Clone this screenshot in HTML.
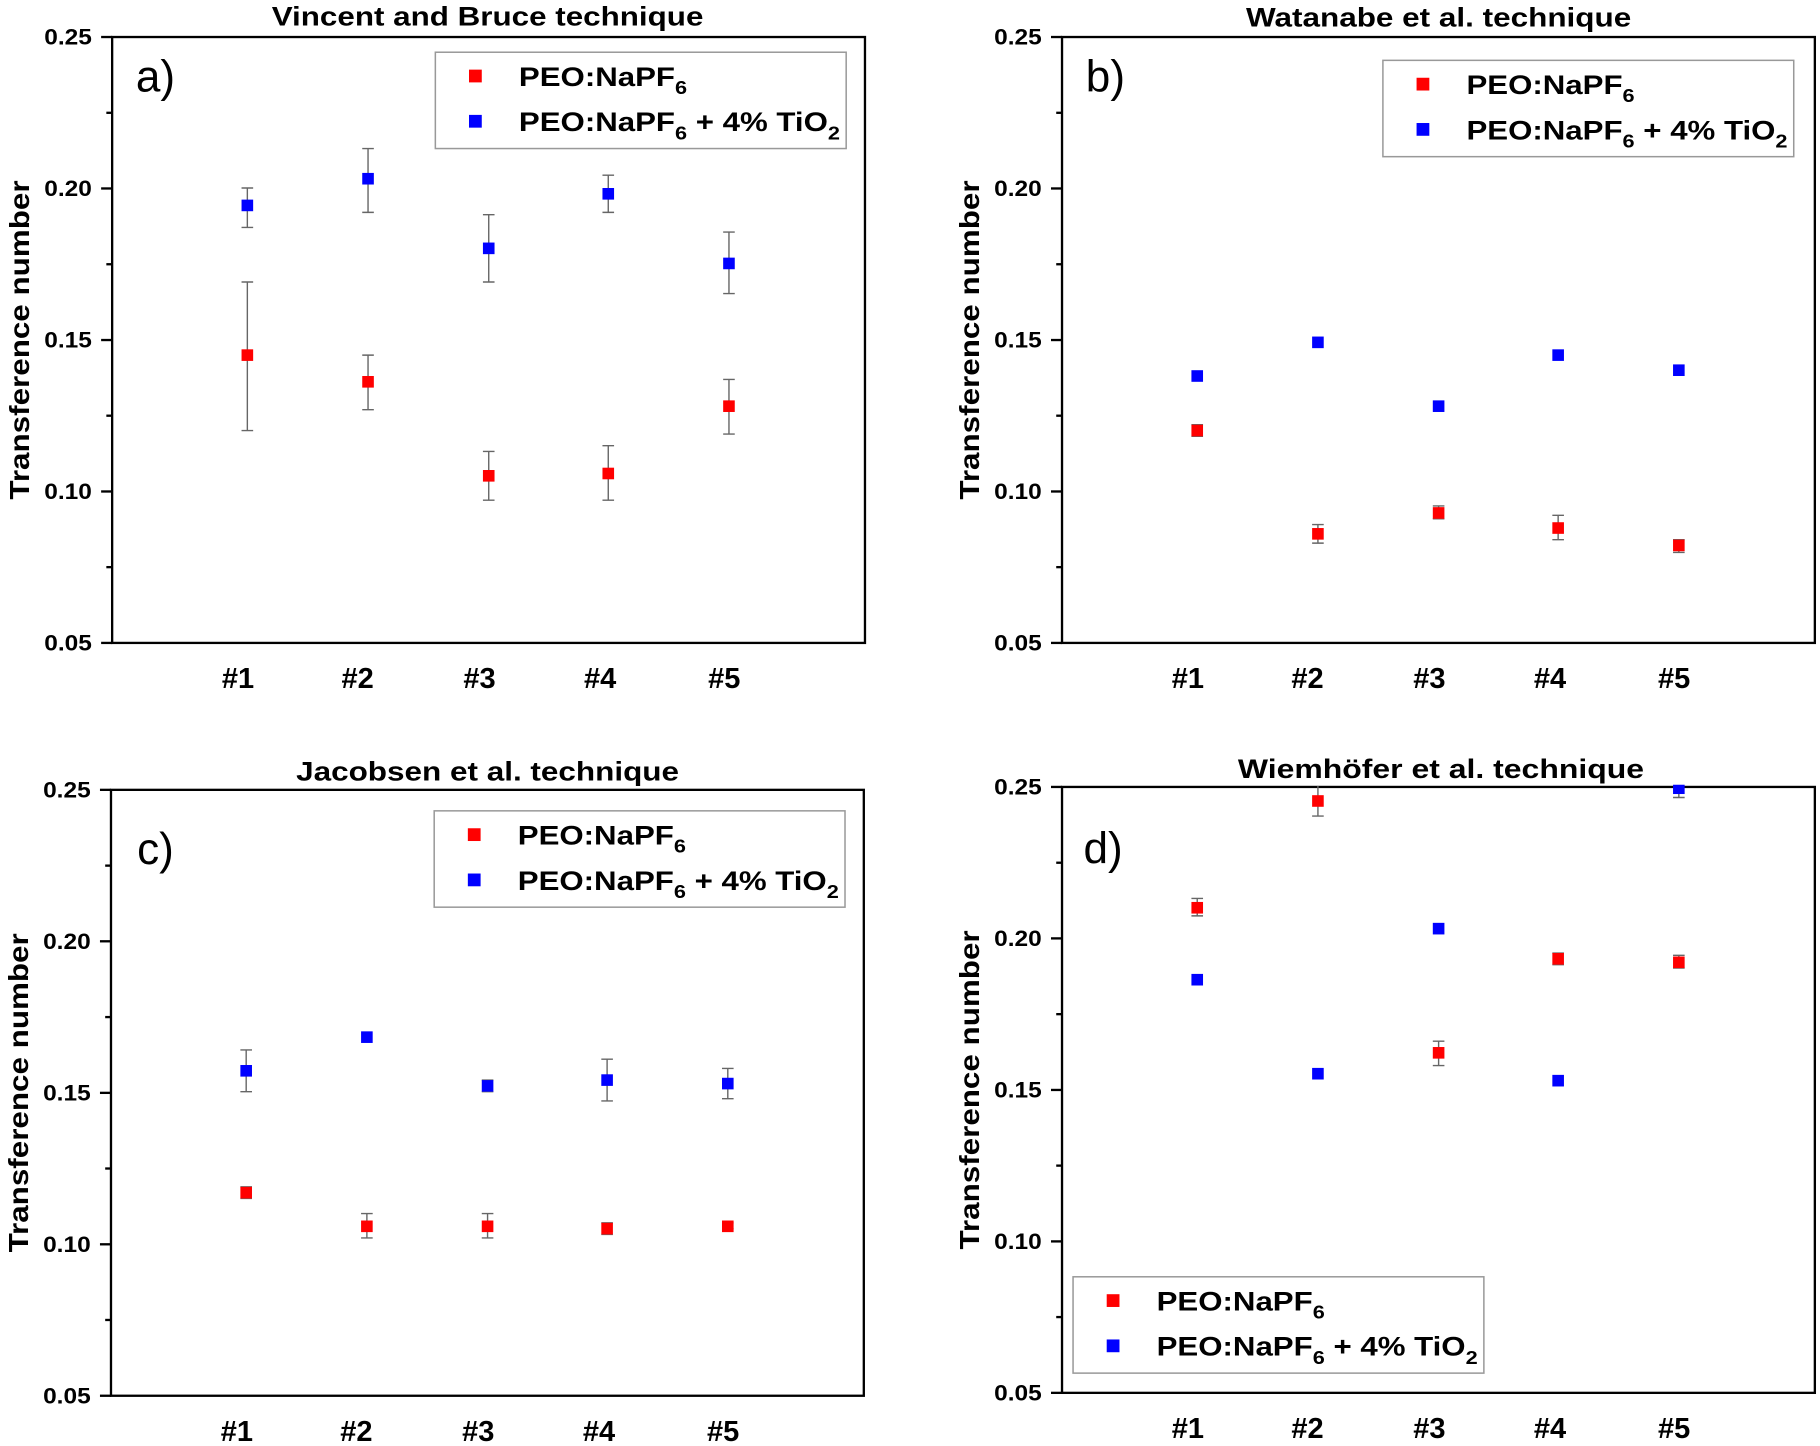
<!DOCTYPE html>
<html><head><meta charset="utf-8"><style>
html,body{margin:0;padding:0;background:#fff}
svg{display:block}
text{font-family:"Liberation Sans",Arial,sans-serif;fill:#000}
.tk{font-size:19px;font-weight:bold;text-anchor:end}
.cat{font-size:25px;font-weight:bold;text-anchor:middle}
.ax{font-size:24px;font-weight:bold;text-anchor:middle}
.ti{font-size:23px;font-weight:bold;text-anchor:middle}
.lg{font-size:23px;font-weight:bold}
.lt{font-size:38px}
.eb{stroke:#666;stroke-width:1.2;fill:none}
.r{fill:#ff0000}.b{fill:#0000ff}
</style></head><body>
<svg width="1820" height="1446" viewBox="0 0 1568 1246" xmlns="http://www.w3.org/2000/svg">
<defs>
<g id="axes">
<rect x="96.5" y="31.9" width="648.7" height="522.1" fill="none" stroke="#000" stroke-width="2"/>
<g stroke="#000" stroke-width="2">
<line x1="87" y1="31.9" x2="96.5" y2="31.9"/><line x1="87" y1="162.4" x2="96.5" y2="162.4"/><line x1="87" y1="293" x2="96.5" y2="293"/><line x1="87" y1="423.5" x2="96.5" y2="423.5"/><line x1="87" y1="554" x2="96.5" y2="554"/>
<line x1="91.5" y1="97.2" x2="96.5" y2="97.2"/><line x1="91.5" y1="227.7" x2="96.5" y2="227.7"/><line x1="91.5" y1="358.2" x2="96.5" y2="358.2"/><line x1="91.5" y1="488.7" x2="96.5" y2="488.7"/>
</g>
<text class="tk" x="79" y="38.5" textLength="41" lengthAdjust="spacingAndGlyphs">0.25</text><text class="tk" x="79" y="169" textLength="41" lengthAdjust="spacingAndGlyphs">0.20</text><text class="tk" x="79" y="299.5" textLength="41" lengthAdjust="spacingAndGlyphs">0.15</text><text class="tk" x="79" y="430" textLength="41" lengthAdjust="spacingAndGlyphs">0.10</text><text class="tk" x="79" y="560.5" textLength="41" lengthAdjust="spacingAndGlyphs">0.05</text>
<text class="cat" x="205" y="593">#1</text><text class="cat" x="308" y="593">#2</text><text class="cat" x="413" y="593">#3</text><text class="cat" x="517" y="593">#4</text><text class="cat" x="624" y="593">#5</text>
<text class="ax" transform="translate(25,293) rotate(-90)" textLength="275" lengthAdjust="spacingAndGlyphs">Transference number</text>
</g>
<g id="leg">
<rect x="0" y="0" width="354" height="83" fill="#fff" stroke="#999" stroke-width="1.3"/>
<rect class="r" x="29" y="15" width="11" height="11"/>
<rect class="b" x="29" y="54" width="11" height="11"/>
<g transform="translate(72,0) scale(1.17,1)">
<text class="lg" x="0" y="29">PEO:NaPF<tspan font-size="16" dy="7">6</tspan></text>
<text class="lg" x="0" y="68">PEO:NaPF<tspan font-size="16" dy="7">6</tspan><tspan dy="-7"> + 4% TiO</tspan><tspan font-size="16" dy="7">2</tspan></text>
</g>
</g>
</defs>

<!-- Panel a -->
<g>
<use href="#axes"/>
<text class="ti" x="420" y="22" textLength="372" lengthAdjust="spacingAndGlyphs">Vincent and Bruce technique</text>
<text class="lt" x="117" y="79">a)</text>
<use href="#leg" transform="translate(375,45)"/>
<path class="eb" d="M213,243H208H218M213,243V371M208,371H218 M317,353V306M312,353H322M312,306H322 M421,431V389M416,431H426M416,389H426 M524,431V384M519,431H529M519,384H529 M628,374V327M623,374H633M623,327H633
M213,196V162M208,196H218M208,162H218 M317,183V128M312,183H322M312,128H322 M421,243V185M416,243H426M416,185H426 M524,183V151M519,183H529M519,151H529 M628,253V200M623,253H633M623,200H633"/>
<rect class="r" x="208" y="301" width="10" height="10"/><rect class="r" x="312" y="324" width="10" height="10"/><rect class="r" x="416" y="405" width="10" height="10"/><rect class="r" x="519" y="403" width="10" height="10"/><rect class="r" x="623" y="345" width="10" height="10"/>
<rect class="b" x="208" y="172" width="10" height="10"/><rect class="b" x="312" y="149" width="10" height="10"/><rect class="b" x="416" y="209" width="10" height="10"/><rect class="b" x="519" y="162" width="10" height="10"/><rect class="b" x="623" y="222" width="10" height="10"/>
</g>

<!-- Panel b -->
<g transform="translate(818.5,0)">
<use href="#axes"/>
<text class="ti" x="421" y="23" textLength="332" lengthAdjust="spacingAndGlyphs">Watanabe et al. technique</text>
<text class="lt" x="117" y="79">b)</text>
<use href="#leg" transform="translate(373,52)"/>
<path class="eb" d="M213,366V376M208,366H218M208,376H218 M317,452V468M312,452H322M312,468H322 M421,436V447M416,436H426M416,447H426 M524,444V465M519,444H529M519,465H529 M628,465V476M623,465H633M623,476H633"/>
<rect class="r" x="208" y="366" width="10" height="10"/><rect class="r" x="312" y="455" width="10" height="10"/><rect class="r" x="416" y="437" width="10" height="10"/><rect class="r" x="519" y="450" width="10" height="10"/><rect class="r" x="623" y="465" width="10" height="10"/>
<rect class="b" x="208" y="319" width="10" height="10"/><rect class="b" x="312" y="290" width="10" height="10"/><rect class="b" x="416" y="345" width="10" height="10"/><rect class="b" x="519" y="301" width="10" height="10"/><rect class="b" x="623" y="314" width="10" height="10"/>
</g>

<!-- Panel c -->
<g transform="translate(-1,648.7)">
<use href="#axes"/>
<text class="ti" x="421" y="24" textLength="330" lengthAdjust="spacingAndGlyphs">Jacobsen et al. technique</text>
<text class="lt" x="119" y="96">c)</text>
<use href="#leg" transform="translate(375,50)"/>
<path class="eb" d="M213,374V384M208,374H218M208,384H218 M317,397V418M312,397H322M312,418H322 M421,397V418M416,397H426M416,418H426 M524,405V415M519,405H529M519,415H529 M628,405V410M623,405H633M623,410H633
M213,256V292M208,256H218M208,292H218 M421,282V292M416,282H426M416,292H426 M524,264V300M519,264H529M519,300H529 M628,272V298M623,272H633M623,298H633"/>
<rect class="r" x="208" y="374" width="10" height="10"/><rect class="r" x="312" y="403" width="10" height="10"/><rect class="r" x="416" y="403" width="10" height="10"/><rect class="r" x="519" y="405" width="10" height="10"/><rect class="r" x="623" y="403" width="10" height="10"/>
<rect class="b" x="208" y="269" width="10" height="10"/><rect class="b" x="312" y="240" width="10" height="10"/><rect class="b" x="416" y="282" width="10" height="10"/><rect class="b" x="519" y="277" width="10" height="10"/><rect class="b" x="623" y="280" width="10" height="10"/>
</g>

<!-- Panel d -->
<g transform="translate(818.5,646.2)">
<use href="#axes"/>
<text class="ti" x="423" y="24" textLength="350" lengthAdjust="spacingAndGlyphs">Wiemhöfer et al. technique</text>
<text class="lt" x="115" y="98">d)</text>
<use href="#leg" transform="translate(106,454)"/>
<path class="eb" d="M213,128V143M208,128H218M208,143H218 M317,31V57M312,57H322 M421,251V272M416,251H426M416,272H426 M524,175V185M519,175H529M519,185H529 M628,177V188M623,177H633M623,188H633 M628,33V41M623,41H633"/>
<rect class="r" x="208" y="131" width="10" height="10"/><rect class="r" x="312" y="39" width="10" height="10"/><rect class="r" x="416" y="256" width="10" height="10"/><rect class="r" x="519" y="175" width="10" height="10"/><rect class="r" x="623" y="178" width="10" height="10"/>
<rect class="b" x="208" y="193" width="10" height="10"/><rect class="b" x="312" y="274" width="10" height="10"/><rect class="b" x="416" y="149" width="10" height="10"/><rect class="b" x="519" y="280" width="10" height="10"/><rect class="b" x="623" y="30" width="10" height="8"/>
</g>
</svg>
</body></html>
